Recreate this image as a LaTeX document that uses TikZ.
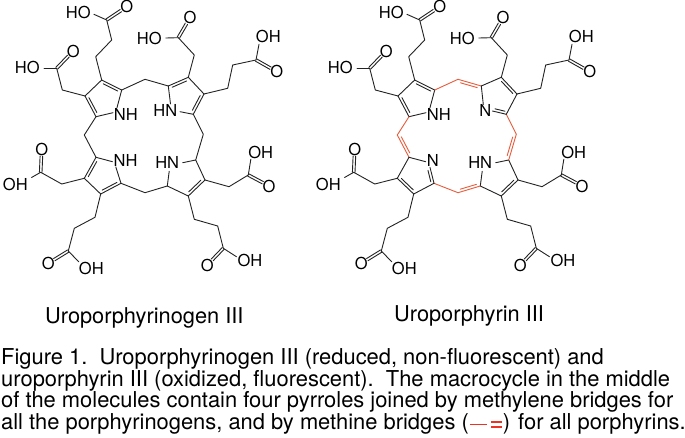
\documentclass[tikz,border=0pt]{standalone}
\usepackage{fontspec}
\setmainfont{TeX Gyre Heros}
\usetikzlibrary{calc}
\definecolor{methine}{RGB}{232,92,60}
\definecolor{capred}{RGB}{235,50,35}
\definecolor{inkline}{RGB}{35,35,35}
\tikzset{
  bond/.style={draw=inkline,line width=0.9pt,line cap=round,line join=round},
  redbond/.style={draw=methine,line width=0.9pt,line cap=round,line join=round},
  keybond/.style={draw=capred,line width=1.6pt},
  lab/.style={inner sep=0pt,font=\fontsize{16.5}{16.5}\selectfont,text=black},
  title/.style={inner sep=0pt,anchor=base west,font=\fontsize{21.8}{24}\selectfont,text=black},
  capline/.style={inner sep=0pt,anchor=base west,font=\fontsize{21.9}{24}\selectfont,text=black}
}
% double bond with a shorter inner line; #4 = signed offset
\newcommand\ringdb[4][bond]{%
  \draw[#1] (#2) -- (#3);
  \draw[#1] ($(#2)!.14!(#3)!#4pt!90:(#3)$) -- ($(#3)!.14!(#2)!#4pt!-90:(#2)$);}
% carbonyl: two lines from C to the O label
\newcommand\codb[2]{%
  \draw[bond,shorten >=7pt] ($(#1)!1.3pt!90:(#2.center)$) -- ($(#2.center)!1.3pt!-90:(#1)$);
  \draw[bond,shorten >=7pt] ($(#1)!1.3pt!-90:(#2.center)$) -- ($(#2.center)!1.3pt!90:(#1)$);}
% everything the two molecules share: ring atoms, bridges, side chains
\newcommand\peripheral[1]{%
  \coordinate (#1a1) at (101.7,80);  \coordinate (#1a2) at (121.7,90);
  \coordinate (#1a3) at (96,116.7);  \coordinate (#1a4) at (85,96);
  \coordinate (#1b1) at (168.3,86);  \coordinate (#1b2) at (188.3,77.3);
  \coordinate (#1b3) at (204,94);    \coordinate (#1b4) at (193.3,114.3);
  \coordinate (#1c1) at (195.7,160); \coordinate (#1c2) at (205,180);
  \coordinate (#1c3) at (188.3,196); \coordinate (#1c4) at (167.3,186);
  \coordinate (#1d1) at (96,157.3);  \coordinate (#1d2) at (84.3,178.3);
  \coordinate (#1d3) at (100.7,194); \coordinate (#1d4) at (121,183.3);
  \coordinate (#1m1) at (145,79.3);  \coordinate (#1m2) at (203.3,134.3);
  \coordinate (#1m3) at (145,192.7); \coordinate (#1m4) at (84.3,135);
  % top-left ring, upper chain
  \coordinate (#1p1) at (95.7,56.7); \coordinate (#1p2) at (111.7,40); \coordinate (#1p3) at (106.7,20);
  \node[lab] (#1pO) at (126.7,6.7) {O};
  \node[lab] (#1pH) at (78.3,12.3) {HO};
  \draw[bond] (#1a1) -- (#1p1) -- (#1p2) -- (#1p3);
  \draw[bond] (#1p3) -- ([xshift=3pt,yshift=-2pt]#1pH.east);
  \codb{#1p3}{#1pO}
  % top-left ring, left chain
  \coordinate (#1q1) at (62.3,90); \coordinate (#1q2) at (56.7,68.3);
  \node[lab] (#1qO) at (73.3,51) {O};
  \node[lab] (#1qH) at (27.3,67.7) {HO};
  \draw[bond] (#1a4) -- (#1q1) -- (#1q2);
  \draw[bond] (#1q2) -- ([xshift=4.3pt,yshift=-.6pt]#1qH.east);
  \codb{#1q2}{#1qO}
  % top-right ring, acetic chain
  \coordinate (#1r1) at (194.3,55); \coordinate (#1r2) at (178.3,37.7);
  \node[lab] (#1rO) at (190,17.7) {O};
  \node[lab] (#1rH) at (149.3,38) {HO};
  \draw[bond] (#1b2) -- (#1r1) -- (#1r2);
  \draw[bond] (#1r2) -- ([xshift=4pt]#1rH.east);
  \codb{#1r2}{#1rO}
  % top-right ring, propionic chain
  \coordinate (#1s1) at (227.7,88.3); \coordinate (#1s2) at (232.7,65); \coordinate (#1s3) at (256,60);
  \node[lab] (#1sO) at (276.7,71.7) {O};
  \node[lab] (#1sH) at (268.3,36.7) {OH};
  \draw[bond] (#1b3) -- (#1s1) -- (#1s2) -- (#1s3);
  \draw[bond] (#1s3) -- ([xshift=3.3pt,yshift=-1pt]#1sH.south west);
  \codb{#1s3}{#1sO}
  % bottom-right ring, acetic chain
  \coordinate (#1t1) at (229,186.7); \coordinate (#1t2) at (248.3,175);
  \node[lab] (#1tO) at (269,186) {O};
  \node[lab] (#1tH) at (260.7,152.7) {OH};
  \draw[bond] (#1c2) -- (#1t1) -- (#1t2);
  \draw[bond] (#1t2) -- ([xshift=2.7pt]#1tH.south west);
  \codb{#1t2}{#1tO}
  % bottom-right ring, propionic chain
  \coordinate (#1u1) at (194.3,219.3); \coordinate (#1u2) at (217.7,226); \coordinate (#1u3) at (223.3,248.3);
  \node[lab] (#1uO) at (207.3,265) {O};
  \node[lab] (#1uH) at (250,260) {OH};
  \draw[bond] (#1c3) -- (#1u1) -- (#1u2) -- (#1u3);
  \draw[bond] (#1u3) -- ([xshift=-1pt,yshift=3.3pt]#1uH.west);
  \codb{#1u3}{#1uO}
  % bottom-left ring, acetic chain
  \coordinate (#1v1) at (61.7,184); \coordinate (#1v2) at (40.7,172.3);
  \node[lab] (#1vO) at (41.7,149) {O};
  \node[lab] (#1vH) at (15.3,184) {OH};
  \draw[bond] (#1d2) -- (#1v1) -- (#1v2);
  \draw[bond] (#1v2) -- ([xshift=3.7pt]#1vH.north east);
  \codb{#1v2}{#1vO}
  % bottom-left ring, propionic chain
  \coordinate (#1w1) at (95,217.3); \coordinate (#1w2) at (74.3,228.3); \coordinate (#1w3) at (68.3,251);
  \node[lab] (#1wO) at (48.3,263.3) {O};
  \node[lab] (#1wH) at (91.3,268.3) {OH};
  \draw[bond] (#1d3) -- (#1w1) -- (#1w2) -- (#1w3);
  \draw[bond] (#1w3) -- (#1wH.north west);
  \codb{#1w3}{#1wO}
  % ring A and ring C are the same in both molecules
  \node[lab] (#1NA) at (125.8,114.3) {NH};
  \node[lab] (#1NC) at (167.2,162.7) {HN};
  \draw[bond] (#1a2) -- ([xshift=3.3pt,yshift=.4pt]#1NA.north west);
  \draw[bond] (#1a3) -- ([xshift=-.7pt,yshift=1.6pt]#1NA.west);
  \draw[bond] (#1a1) -- (#1a4);
  \ringdb{#1a1}{#1a2}{-2.7}
  \ringdb{#1a4}{#1a3}{2.7}
  \draw[bond] (#1c1) -- ([xshift=3.4pt]#1NC.east);
  \draw[bond] (#1c4) -- ([xshift=2pt,yshift=-2.4pt]#1NC.south);
  \draw[bond] (#1c1) -- (#1c2);
  \draw[bond] (#1c3) -- (#1c4);
  \ringdb{#1c2}{#1c3}{-2.7}
}
\begin{document}
\begin{tikzpicture}[x=1pt,y=-1pt]
\useasboundingbox (0,0) rectangle (685,438);
\fill[white] (0,0) rectangle (685,438);

% ---------- Uroporphyrinogen III ----------
\begin{scope}
  \peripheral{L}
  \node[lab] (LNB) at (165.3,110.7) {HN};
  \node[lab] (LND) at (125.5,160.7) {NH};
  % methylene bridges
  \draw[bond] (La2) -- (Lm1) -- (Lb1);
  \draw[bond] (Lb4) -- (Lm2) -- (Lc1);
  \draw[bond] (Ld4) -- (Lm3) -- (Lc4);
  \draw[bond] (La3) -- (Lm4) -- (Ld1);
  % ring B
  \draw[bond] (Lb1) -- ([xshift=5.2pt,yshift=.5pt]LNB.north);
  \draw[bond] (Lb4) -- ([xshift=2.6pt,yshift=-1pt]LNB.east);
  \draw[bond] (Lb2) -- (Lb3);
  \ringdb{Lb1}{Lb2}{-2.7}
  \ringdb{Lb3}{Lb4}{-2.7}
  % ring D
  \draw[bond] (Ld1) -- ([xshift=-1pt,yshift=-1pt]LND.west);
  \draw[bond] (Ld4) -- ([xshift=2.4pt]LND.south west);
  \draw[bond] (Ld2) -- (Ld3);
  \ringdb{Ld1}{Ld2}{2.7}
  \ringdb{Ld3}{Ld4}{2.7}
\end{scope}

% ---------- Uroporphyrin III ----------
\begin{scope}[xshift=313pt]
  \peripheral{R}
  \node[lab] (RNB) at (172.3,110.7) {N};
  \node[lab] (RND) at (119.8,160.7) {N};
  \coordinate (Rnb) at ([xshift=1pt,yshift=-.3pt]RNB.east);
  \coordinate (Rnd) at ([xshift=-2.8pt,yshift=-.5pt]RND.south);
  % methine bridges
  \draw[redbond] (Ra2) -- (Rm1);
  \ringdb[redbond]{Rm1}{Rb1}{-2.7}
  \draw[redbond] (Rb4) -- (Rm2);
  \ringdb[redbond]{Rm2}{Rc1}{-2.7}
  \draw[redbond] (Rd4) -- (Rm3);
  \ringdb[redbond]{Rm3}{Rc4}{2.7}
  \draw[redbond] (Ra3) -- (Rm4);
  \ringdb[redbond]{Rm4}{Rd1}{2.7}
  % ring B
  \draw[bond] (Rb1) -- ([xshift=-2pt]RNB.north);
  \draw[bond] (Rb1) -- (Rb2);
  \draw[bond] (Rb3) -- (Rb4);
  \ringdb{Rb2}{Rb3}{-2.7}
  \ringdb{Rnb}{Rb4}{2.7}
  % ring D
  \draw[bond] (Rd1) -- ([xshift=-1pt,yshift=-1pt]RND.west);
  \draw[bond] (Rd3) -- (Rd4);
  \draw[bond] (Rd1) -- (Rd2);
  \ringdb{Rd2}{Rd3}{2.7}
  \ringdb{Rd4}{Rnd}{2.7}
\end{scope}

% ---------- titles ----------
\node[title] (tleft)  at (45,323.3) {Uroporphyrinogen III};
\node[title] (tright) at (394,321) {Uroporphyrin III};

% ---------- caption ----------
\node[capline] (cap1) at (1,364)   {Figure 1.\ \ Uroporphyrinogen III (reduced, non-fluorescent) and};
\node[capline] (cap2) at (1,386)   {uroporphyrin III (oxidized, fluorescent).\ \ The macrocycle in the middle};
\node[capline] (cap3) at (1,407.3) {of the molecules contain four pyrroles joined by methylene bridges for};
\node[capline] (cap4) at (1,429.3) {all the porphyrinogens, and by methine bridges (\hspace{34pt})\hspace{2pt} for all porphyrins.};
% the key to the methine bridge, set into the gap left in the last line
\coordinate (k1) at (470,424.3); \coordinate (k2) at (486.7,424.3);
\coordinate (k3) at (491,421.7); \coordinate (k4) at (502,421.7);
\coordinate (k5) at (491,427);   \coordinate (k6) at (502,427);
\draw[keybond] (k1) -- (k2);
\draw[keybond] (k3) -- (k4);
\draw[keybond] (k5) -- (k6);
\end{tikzpicture}
\end{document}
